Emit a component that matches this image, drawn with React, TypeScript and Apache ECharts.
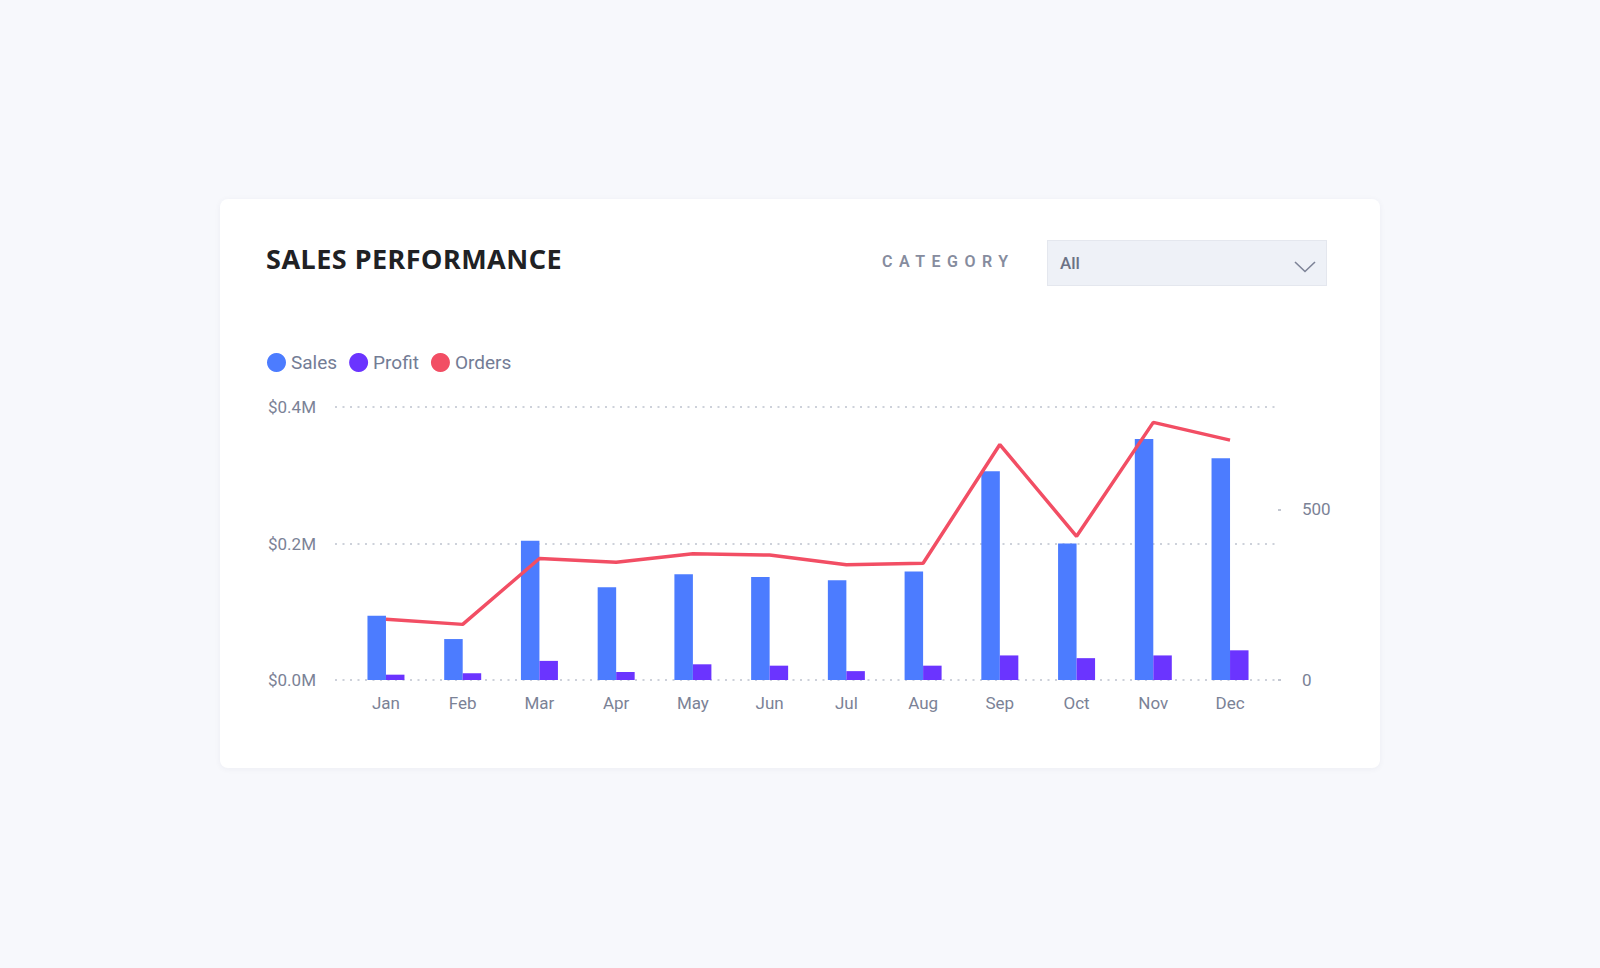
import React, { useRef, useEffect } from "react";
import * as echarts from "echarts";

const months = ["Jan", "Feb", "Mar", "Apr", "May", "Jun", "Jul", "Aug", "Sep", "Oct", "Nov", "Dec"];
const sales = [94000, 60000, 204000, 136000, 155000, 151000, 146000, 159000, 306000, 200000, 353000, 325000];
const profit = [7800, 9800, 28000, 11700, 23000, 21000, 13000, 21000, 36000, 32000, 36000, 43500];
const orders = [178, 163, 356, 345, 370, 366, 338, 342, 690, 421, 755, 703];
const orderTicks = [0, 500];

const FONT = "Roboto, 'Noto Sans', sans-serif";
const LABEL = "#7b8296";

function SalesChart() {
  const chartRef = useRef<HTMLDivElement>(null);

  useEffect(() => {
    if (!chartRef.current) return;
    const chart = echarts.init(chartRef.current, undefined, { renderer: "svg" });

    const option: echarts.EChartsOption = {
      animation: false,
      textStyle: { fontFamily: FONT },
      legend: {
        left: 47,
        top: 154,
        padding: 0,
        icon: "circle",
        itemWidth: 19,
        itemHeight: 19,
        itemGap: 12,
        textStyle: { fontSize: 19, color: "#737c95" },
        data: ["Sales", "Profit", "Orders"],
      },
      grid: [
        { left: 127.6, top: 208, width: 920.8, height: 273 },
        { left: 115, top: 208, width: 943, height: 273 },
      ],
      xAxis: [
        {
          type: "category",
          gridIndex: 0,
          data: months,
          axisLine: { show: false },
          axisTick: { show: false },
          axisLabel: { fontSize: 17, color: LABEL, margin: 14 },
        },
        { type: "value", gridIndex: 1, show: false, min: 0, max: 1 },
      ],
      yAxis: [
        { type: "value", gridIndex: 0, min: 0, max: 400000, show: false },
        { type: "value", gridIndex: 0, min: 0, max: 800, show: false },
        {
          type: "value",
          gridIndex: 1,
          position: "left",
          min: 0,
          max: 400000,
          interval: 200000,
          axisLine: { show: false },
          axisTick: { show: false },
          axisLabel: {
            fontSize: 17,
            color: LABEL,
            margin: 19,
            formatter: (v: number) => `$${(v / 1e6).toFixed(1)}M`,
          },
          splitLine: { lineStyle: { type: [2, 5.5], color: "#cdd1da", width: 2 } },
        },
        {
          type: "value",
          gridIndex: 1,
          position: "right",
          min: 0,
          max: 800,
          axisLine: { show: false },
          axisTick: {
            show: true,
            length: 3,
            customValues: orderTicks,
            lineStyle: { color: "#c3c7d1", width: 2 },
          },
          axisLabel: { customValues: orderTicks, fontSize: 17, color: LABEL, margin: 24 },
          splitLine: { show: false },
        },
      ],
      series: [
        {
          name: "Sales",
          type: "bar",
          xAxisIndex: 0,
          yAxisIndex: 0,
          data: sales,
          barWidth: 18.5,
          barGap: "0%",
          itemStyle: { color: "#4c7cff" },
        },
        {
          name: "Profit",
          type: "bar",
          xAxisIndex: 0,
          yAxisIndex: 0,
          data: profit,
          barWidth: 18.5,
          barGap: "0%",
          itemStyle: { color: "#6b34ff" },
        },
        {
          name: "Orders",
          type: "line",
          xAxisIndex: 0,
          yAxisIndex: 1,
          data: orders,
          symbol: "none",
          itemStyle: { color: "#f24e64" },
          lineStyle: { color: "#f24e64", width: 3.5 },
        },
      ],
    };

    chart.setOption(option);
    return () => chart.dispose();
  }, []);

  return <div ref={chartRef} style={{ position: "absolute", left: 0, top: 0, width: 1160, height: 569 }} />;
}

export default function App() {
  return (
    <div style={{ position: "fixed", inset: 0, background: "#f7f8fc", fontFamily: FONT }}>
      <div
        style={{
          position: "absolute",
          left: 220,
          top: 199,
          width: 1160,
          height: 569,
          background: "#ffffff",
          borderRadius: 8,
          boxShadow: "0 1px 6px rgba(30, 40, 80, 0.05)",
        }}
      >
        <SalesChart />
        <div
          style={{
            position: "absolute",
            left: 46,
            top: 43,
            fontFamily: "'Noto Sans', sans-serif",
            fontWeight: 700,
            fontSize: 27,
            letterSpacing: "0.5px",
            lineHeight: "34px",
            color: "#202124",
          }}
        >
          SALES PERFORMANCE
        </div>
        <div
          style={{
            position: "absolute",
            left: 662,
            top: 53,
            fontSize: 16,
            lineHeight: "20px",
            fontWeight: 600,
            letterSpacing: "6.5px",
            color: "#868c9e",
          }}
        >
          CATEGORY
        </div>
        <div
          style={{
            position: "absolute",
            left: 827,
            top: 41,
            width: 280,
            height: 46,
            boxSizing: "border-box",
            background: "#eef1f7",
            border: "1px solid #e4e7ee",
            fontSize: 17,
            lineHeight: "44px",
            paddingLeft: 12,
            color: "#6b7285",
            fontWeight: 500,
          }}
        >
          All
          <svg
            width={22}
            height={12}
            viewBox="0 0 22 12"
            style={{ position: "absolute", left: 246, top: 20 }}
          >
            <polyline points="1,1 11,10.5 21,1" fill="none" stroke="#7d8397" strokeWidth={1.6} />
          </svg>
        </div>
      </div>
    </div>
  );
}
